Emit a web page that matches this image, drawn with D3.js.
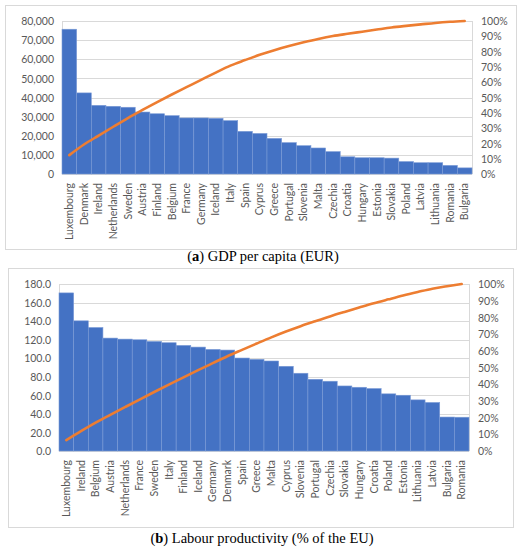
<!DOCTYPE html>
<html><head><meta charset="utf-8">
<script src="https://cdn.jsdelivr.net/npm/d3@7"></script>
<style>
html,body{margin:0;padding:0;background:#fff;}
svg{display:block;}
</style></head>
<body>
<svg id="c" width="529" height="550"></svg>
<script>
// ---- Data ----
const countriesA = ["Luxembourg","Denmark","Ireland","Netherlands","Sweden","Austria","Finland","Belgium","France","Germany","Iceland","Italy","Spain","Cyprus","Greece","Portugal","Slovenia","Malta","Czechia","Croatia","Hungary","Estonia","Slovakia","Poland","Latvia","Lithuania","Romania","Bulgaria"];
const gdpValues = [75700,42400,35900,35400,34900,32400,31500,30500,29300,29300,29100,27900,22300,21200,18600,16400,14800,13600,11700,9000,8500,8500,8300,6500,5900,5900,4500,3200];
const gdpTicks = [0,10000,20000,30000,40000,50000,60000,70000,80000];

const countriesB = ["Luxembourg","Ireland","Belgium","Austria","Netherlands","France","Sweden","Italy","Finland","Iceland","Germany","Denmark","Spain","Greece","Malta","Cyprus","Slovenia","Portugal","Czechia","Slovakia","Hungary","Croatia","Poland","Estonia","Lithuania","Latvia","Bulgaria","Romania"];
const productivityValues = [170.4,140.3,133.1,121.7,120.6,119.9,118.1,116.7,113.8,112.0,109.5,108.8,100.2,98.8,97.0,91.3,83.8,77.3,75.2,70.1,68.7,67.3,61.6,60.1,55.1,52.3,36.6,36.4];
const productivityTicks = [0,20,40,60,80,100,120,140,160,180];

const percentTicks = [0,10,20,30,40,50,60,70,80,90,100];

const captionA = {bold:"a", rest:" GDP per capita (EUR)"};
const captionB = {bold:"b", rest:" Labour productivity (% of the EU)"};

// ---- Drawing ----
const svg = d3.select("#c");
const tickFont = "Lato, 'Open Sans', sans-serif";
const gray = "#595959";
const gridC = "#d9d9d9";

function panel(cfg){
  const g = svg.append("g");
  // frame
  g.append("rect").attr("x",cfg.frame[0]+0.5).attr("y",cfg.frame[1]+0.5)
    .attr("width",cfg.frame[2]-cfg.frame[0]).attr("height",cfg.frame[3]-cfg.frame[1])
    .attr("fill","#fff").attr("stroke",gridC).attr("stroke-width",1);

  const x = d3.scaleBand().domain(cfg.cats).range([cfg.plot[0],cfg.plot[2]]).padding(0);
  const y = d3.scaleLinear().domain([0,cfg.max]).range([cfg.plot[3],cfg.plot[1]]);
  const yp = d3.scaleLinear().domain([0,100]).range([cfg.plot[3],cfg.plot[1]]);

  // grid
  g.append("g").selectAll("line").data(cfg.ticks).join("line")
    .attr("x1",cfg.plot[0]).attr("x2",cfg.plot[2])
    .attr("y1",d=>Math.round(y(d))+0.5).attr("y2",d=>Math.round(y(d))+0.5)
    .attr("stroke",gridC).attr("stroke-width",1);
  // vertical axis lines
  [cfg.plot[0],cfg.plot[2]].forEach(xx=>{
    g.append("line").attr("x1",xx+0.5).attr("x2",xx+0.5)
     .attr("y1",cfg.plot[1]).attr("y2",cfg.plot[3])
     .attr("stroke",gridC).attr("stroke-width",1);
  });

  // bars
  g.append("g").selectAll("rect").data(cfg.values).join("rect")
    .attr("x",(d,i)=>x(cfg.cats[i])).attr("width",x.bandwidth())
    .attr("y",d=>y(d)).attr("height",d=>y(0)-y(d))
    .attr("fill","#4472C4").attr("stroke","#7b9bd6").attr("stroke-width",0.6);

  // left axis
  const la = d3.axisLeft(y).tickValues(cfg.ticks).tickSize(0).tickPadding(0).tickFormat(cfg.fmt);
  const lag = g.append("g").attr("transform",`translate(${cfg.leftLabelX},0)`).call(la);
  lag.select(".domain").remove();
  lag.selectAll("text").attr("font-family",tickFont).attr("font-size",cfg.fs).attr("fill",gray).attr("dy","0.35em");

  // right axis
  const ra = d3.axisRight(yp).tickValues(percentTicks).tickSize(0).tickPadding(0).tickFormat(d=>d+"%");
  const rag = g.append("g").attr("transform",`translate(${cfg.rightLabelX},0)`).call(ra);
  rag.select(".domain").remove();
  rag.selectAll("text").attr("font-family",tickFont).attr("font-size",cfg.fs).attr("fill",gray).attr("dy","0.35em");

  // bottom axis (rotated labels)
  const ba = d3.axisBottom(x).tickSize(0).tickPadding(0);
  const bag = g.append("g").attr("transform",`translate(0,${cfg.plot[3]})`).call(ba);
  bag.select(".domain").remove();
  bag.selectAll("text").attr("font-family",tickFont).attr("font-size",cfg.fs).attr("fill",gray)
    .attr("transform","rotate(-90)").attr("text-anchor","end")
    .attr("x",-cfg.labelGap).attr("y",0).attr("dy","0.35em");

  // cumulative line
  const total = d3.sum(cfg.values);
  const cum = d3.cumsum(cfg.values).map(v=>v/total*100);
  const line = d3.line().x((d,i)=>x(cfg.cats[i])+x.bandwidth()/2).y(d=>yp(d)).curve(d3.curveMonotoneX);
  g.append("path").datum(Array.from(cum)).attr("d",line).attr("fill","none")
    .attr("stroke","#ED7D31").attr("stroke-width",2.6).attr("stroke-linecap","round");

  // caption
  const t = svg.append("text").attr("x",cfg.capX).attr("y",cfg.capY).attr("text-anchor","middle")
    .attr("font-family","'Liberation Serif','DejaVu Serif',serif").attr("font-size",14.5).attr("fill","#000");
  t.append("tspan").text("(");
  t.append("tspan").attr("font-weight","bold").text(cfg.cap.bold);
  t.append("tspan").text(")"+cfg.cap.rest);
}

panel({
  frame:[5,5,516,249], plot:[62,21,472,174],
  cats:countriesA, values:gdpValues, ticks:gdpTicks, max:80000,
  fmt:d3.format(","), leftLabelX:54, rightLabelX:481, fs:10.5, labelGap:9,
  cap:captionA, capX:263, capY:261
});
panel({
  frame:[8,268,513,527], plot:[59,284,469,451],
  cats:countriesB, values:productivityValues, ticks:productivityTicks, max:180,
  fmt:d3.format(".1f"), leftLabelX:51, rightLabelX:478, fs:10.5, labelGap:9,
  cap:captionB, capX:262, capY:543
});
</script>
</body></html>
